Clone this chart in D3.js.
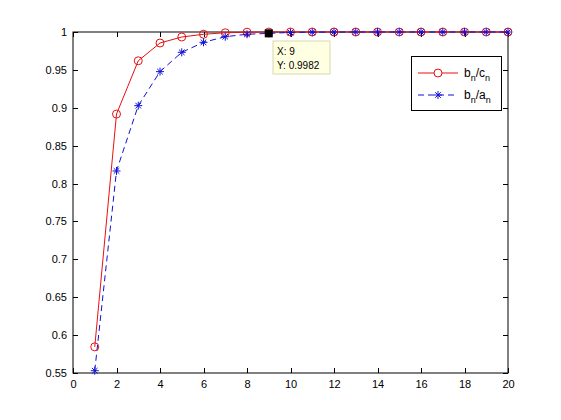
<!DOCTYPE html>
<html><head><meta charset="utf-8">
<script src="https://cdn.jsdelivr.net/npm/d3@7"></script>
<style>
body{margin:0;background:#fff;}
svg{display:block;font-family:Arial,"Liberation Sans",sans-serif;}
</style></head>
<body>
<svg id="c" width="561" height="420"></svg>
<script>
const nValues = [1,2,3,4,5,6,7,8,9,10,11,12,13,14,15,16,17,18,19,20];
const bcValues = [0.5845,0.8917,0.9620,0.9855,0.9934,0.9970,0.9990,0.9997,0.9999,1,1,1,1,1,1,1,1,1,1,1];
const baValues = [0.5530,0.8166,0.9028,0.9477,0.9732,0.9864,0.9938,0.9970,0.9982,0.9994,0.9998,0.9999,1,1,1,1,1,1,1,1];
const xTicks = [0,2,4,6,8,10,12,14,16,18,20];
const yTicks = [0.55,0.6,0.65,0.7,0.75,0.8,0.85,0.9,0.95,1];
const legendLabels = [["b","n","c","n"],["b","n","a","n"]];
const tipPoint = {x:9, y:0.9982};

const svg = d3.select("#c");
const L=73, R=508, T=32, B=373;
const x = d3.scaleLinear().domain([0,20]).range([L,R]);
const y = d3.scaleLinear().domain([0.55,1]).range([B,T]);
const tk = 5;

const g = svg.append("g");
// box
g.append("rect").attr("x",L).attr("y",T).attr("width",R-L).attr("height",B-T)
  .attr("fill","#fff").attr("stroke","#000").attr("stroke-width",1);

// axes
const fmtY = d => d3.format("")(+d.toFixed(2));
const xAx = g.append("g").attr("transform",`translate(0,${B})`)
  .call(d3.axisBottom(x).tickValues(xTicks).tickSizeInner(-tk).tickSizeOuter(0).tickPadding(7));
const xAxT = g.append("g").attr("transform",`translate(0,${T})`)
  .call(d3.axisTop(x).tickValues(xTicks).tickSizeInner(-tk).tickSizeOuter(0).tickFormat(""));
const yAx = g.append("g").attr("transform",`translate(${L},0)`)
  .call(d3.axisLeft(y).tickValues(yTicks).tickSizeInner(-tk).tickSizeOuter(0).tickPadding(6).tickFormat(fmtY));
const yAxR = g.append("g").attr("transform",`translate(${R},0)`)
  .call(d3.axisRight(y).tickValues(yTicks).tickSizeInner(-tk).tickSizeOuter(0).tickFormat(""));
[xAx,xAxT,yAx,yAxR].forEach(a=>{
  a.select(".domain").remove();
  a.selectAll("line").attr("stroke","#000").attr("shape-rendering","crispEdges");
  a.selectAll("text").attr("fill","#000").attr("font-size","11px").attr("font-family","Arial,'Liberation Sans',sans-serif");
});
xAx.selectAll("text").attr("dy","0.71em");

const redC = "#e81010", blueC = "#1010d8";
const line = d3.line().x(d=>x(d[0])).y(d=>y(d[1]));
const bc = nValues.map((n,i)=>[n,bcValues[i]]);
const ba = nValues.map((n,i)=>[n,baValues[i]]);

g.append("path").datum(bc).attr("d",line).attr("fill","none").attr("stroke",redC).attr("stroke-width",1);
g.append("path").datum(ba).attr("d",line).attr("fill","none").attr("stroke",blueC).attr("stroke-width",1).attr("stroke-dasharray","6,4");

function star(sel, cx, cy, r, col){
  const gg = sel.append("g").attr("transform",`translate(${cx},${cy})`);
  [[-r,0,r,0],[0,-r,0,r],[-r*0.7,-r*0.7,r*0.7,r*0.7],[-r*0.7,r*0.7,r*0.7,-r*0.7]].forEach(p=>{
    gg.append("line").attr("x1",p[0]).attr("y1",p[1]).attr("x2",p[2]).attr("y2",p[3]).attr("stroke",col).attr("stroke-width",1);
  });
}
bc.forEach(d=>{
  g.append("circle").attr("cx",x(d[0])).attr("cy",y(d[1])).attr("r",4).attr("fill","none").attr("stroke",redC).attr("stroke-width",1);
});
ba.forEach(d=>star(g,x(d[0]),y(d[1]),4,blueC));

// datatip
g.append("rect").attr("x",x(tipPoint.x)-4).attr("y",y(tipPoint.y)-4).attr("width",8).attr("height",8).attr("fill","#000");
g.append("rect").attr("x",273).attr("y",41).attr("width",57).attr("height",33)
  .attr("fill","#ffffe1").attr("stroke","#d8d8b0").attr("stroke-width",1);
g.append("text").attr("x",277).attr("y",55).attr("font-size","10px").text("X: " + tipPoint.x);
g.append("text").attr("x",277).attr("y",69).attr("font-size","10px").text("Y: " + tipPoint.y);

// legend
const lg = g.append("g");
lg.append("rect").attr("x",411.5).attr("y",56.5).attr("width",90).attr("height",54)
  .attr("fill","#fff").attr("stroke","#000").attr("stroke-width",1);
const rows = [{c:redC, dash:null, m:"o", yy:73},{c:blueC, dash:"6,4", m:"*", yy:95}];
rows.forEach((r,i)=>{
  lg.append("line").attr("x1",418).attr("x2",458).attr("y1",r.yy).attr("y2",r.yy)
    .attr("stroke",r.c).attr("stroke-width",1).attr("stroke-dasharray",r.dash);
  if(r.m==="o") lg.append("circle").attr("cx",438).attr("cy",r.yy).attr("r",4).attr("fill","#fff").attr("stroke",r.c);
  else star(lg,438,r.yy,4,r.c);
  const lab = legendLabels[i];
  const t = lg.append("text").attr("x",464).attr("y",r.yy+4).attr("font-size","12px");
  t.append("tspan").text(lab[0]);
  t.append("tspan").attr("font-size","9px").attr("dy",4).text(lab[1]);
  t.append("tspan").attr("dy",-4).text("/" + lab[2]);
  t.append("tspan").attr("font-size","9px").attr("dy",4).text(lab[3]);
});
</script>
</body></html>
